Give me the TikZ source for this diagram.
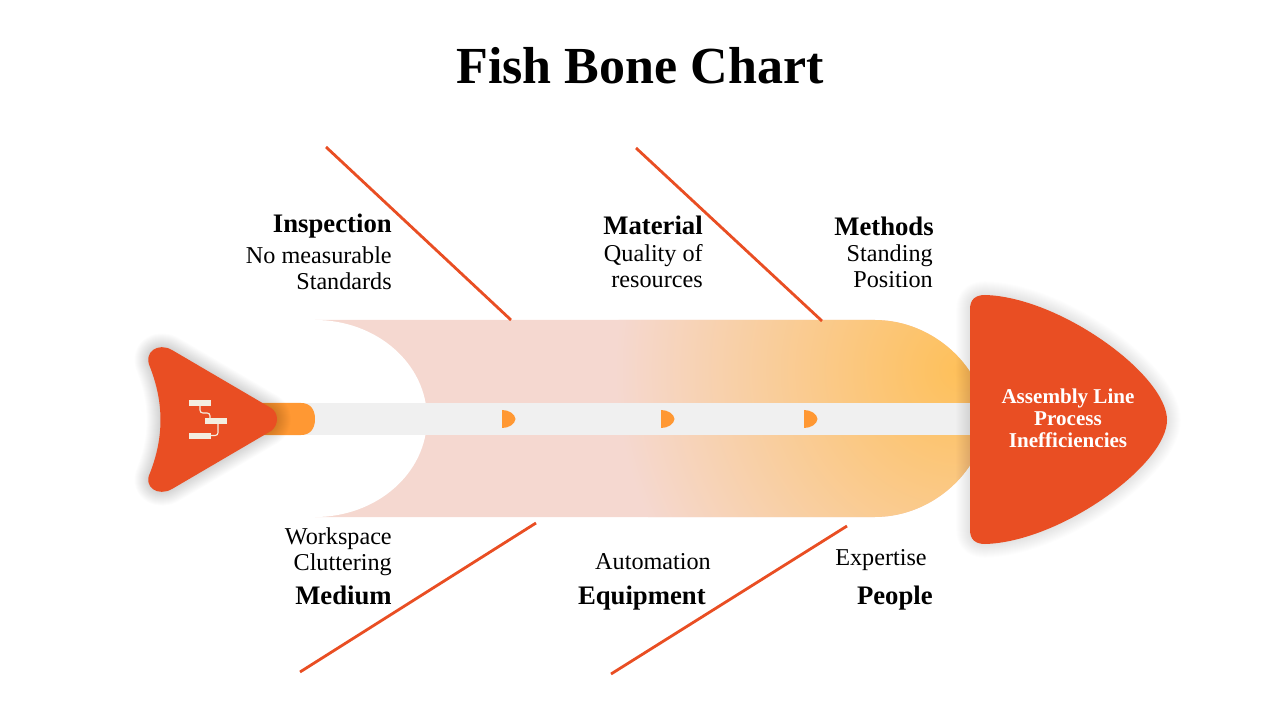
\documentclass[tikz,border=0pt]{standalone}
\usepackage{fontspec}
\setmainfont{Liberation Serif}
\usetikzlibrary{calc,positioning}
\definecolor{fishred}{RGB}{233,78,35}
\definecolor{fishorange}{RGB}{255,152,51}
\definecolor{fishpink}{RGB}{245,216,208}
\definecolor{fishgold}{RGB}{254,192,90}
\definecolor{fishgray}{RGB}{240,240,240}
\definecolor{fishcream}{RGB}{243,238,224}

\begin{document}
\begin{tikzpicture}[
  x=0.025cm, y=-0.025cm,
  every node/.style={inner sep=0pt},
  title/.style={font=\fontsize{37}{40}\selectfont\bfseries},
  head/.style={font=\fontsize{19}{22}\selectfont\bfseries, anchor=base east},
  body/.style={font=\fontsize{17.2}{18.5}\selectfont, anchor=base east, align=right},
  bodyc/.style={font=\fontsize{17.2}{18.5}\selectfont, anchor=base, align=center},
  inner/.style={font=\fontsize{15}{15.7}\selectfont\bfseries, text=white, align=center},
  bone/.style={draw=fishred, line width=2pt},
  iconbox/.style={fill=fishcream},
  iconlink/.style={draw=fishcream, line width=0.8pt, rounded corners=2pt}
]
  \useasboundingbox (0,0) rectangle (1280,720);
  \def\headpath{(970,309) .. controls (970,299) and (976,295) .. (985,295)
    .. controls (1060,297) and (1167,375) .. (1167,420)
    .. controls (1167,465) and (1060,542) .. (985,544)
    .. controls (976,544) and (970,540) .. (970,530) -- cycle}
  \def\tailpath{(150,367) .. controls (143,352) and (158,342) .. (172,350)
    -- (271,408) .. controls (279,413) and (279,425) .. (271,431)
    -- (172,489) .. controls (158,497) and (143,487) .. (150,473)
    .. controls (164,437) and (164,403) .. (150,367) -- cycle}
  \def\bodypath{(315,320) -- (875,320) .. controls (935,320) and (985,370) .. (985,418.5)
    .. controls (985,467) and (935,517) .. (875,517) -- (315,517) -- cycle}

  % body with the warm end
  \fill[fishpink] \bodypath;
  \begin{scope}
    \clip \bodypath;
    \shade[inner color=fishgold, outer color=fishpink] (960,370) circle (345);
  \end{scope}
  \fill[white] (315,320) .. controls (377,320) and (427,364) .. (427,418.5)
    .. controls (427,473) and (377,517) .. (315,517) -- cycle;

  % spine
  \fill[fishgray] (300,403) rectangle (975,435);
  \fill[fishorange] (255,403) -- (301,403) .. controls (310,403) and (315,409) .. (315,419)
    .. controls (315,429) and (310,435) .. (301,435) -- (255,435) -- cycle;

  % marks on the spine
  \foreach \mx in {502,661,804}{
    \fill[fishorange] (\mx,410) .. controls (\mx+7,410) and (\mx+13,414) .. (\mx+13.5,419)
      .. controls (\mx+13,424) and (\mx+7,428) .. (\mx,428) -- cycle;
  }

  % bones
  \coordinate (boneAa) at (326,147); \coordinate (boneAb) at (511,320);
  \coordinate (boneBa) at (636,148); \coordinate (boneBb) at (822,321);
  \coordinate (boneCa) at (300,672); \coordinate (boneCb) at (536,523);
  \coordinate (boneDa) at (611,674); \coordinate (boneDb) at (847,526);
  \draw[bone] (boneAa) -- (boneAb);
  \draw[bone] (boneBa) -- (boneBb);
  \draw[bone] (boneCa) -- (boneCb);
  \draw[bone] (boneDa) -- (boneDb);

  % soft shadows
  \foreach \w in {1,2,...,14}{
    \draw[black, opacity=0.008, line width=\w*1.4pt, line join=round] \headpath;
    \draw[black, opacity=0.010, line width=\w*1.4pt, line join=round] \tailpath;
  }

  % head and tail
  \fill[fishred] \headpath;
  \fill[fishred] \tailpath;

  % icon
  \fill[iconbox] (189,400) rectangle (211,406);
  \fill[iconbox] (205,418) rectangle (227,424);
  \fill[iconbox] (189,433) rectangle (211,439);
  \draw[iconlink] (200,406) -- (200,413) -- (210,413) -- (210,418);
  \draw[iconlink] (218,424) -- (218,435.5) -- (211,435.5);

  % title and head text
  \node[title] (chartTitle) at (640,66) {Fish Bone Chart};
  \node[inner] (headText) at (1068,418) {Assembly Line\\Process\\Inefficiencies};

  % top labels
  \node[head] (inspection) at (392,233) {Inspection};
  \node[body] (inspectionText) at (392,264) {No measurable};
  \node[body] (inspectionMore) at (392,290) {Standards};
  \node[head] (material) at (703,235) {Material};
  \node[body] (materialText) at (703,262) {Quality of};
  \node[body] (materialMore) at (703,288) {resources};
  \node[head] (methods) at (934,236) {Methods};
  \node[body] (methodsText) at (933,262) {Standing};
  \node[body] (methodsMore) at (933,288) {Position};

  % bottom labels
  \node[body] (mediumText) at (392,544) {Workspace};
  \node[body] (mediumMore) at (392,570) {Cluttering};
  \node[head] (medium) at (392,604) {Medium};
  \node[bodyc] (equipmentText) at (653,569) {Automation};
  \node[head] (equipment) at (706,604) {Equipment};
  \node[bodyc] (peopleText) at (881,565) {Expertise};
  \node[head] (people) at (933,604) {People};
\end{tikzpicture}
\end{document}
